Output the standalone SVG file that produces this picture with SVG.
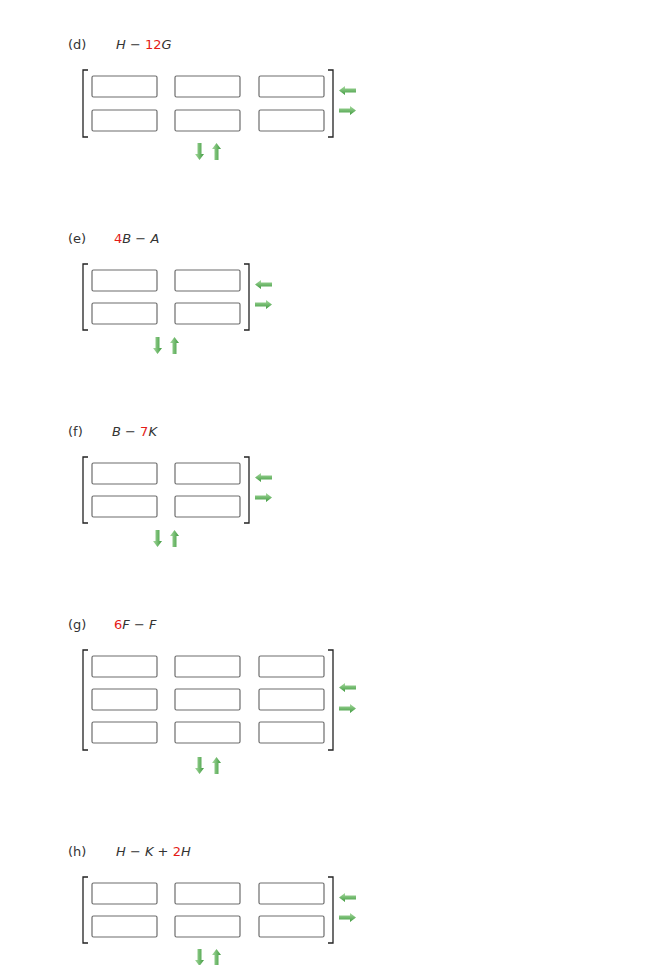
<svg xmlns="http://www.w3.org/2000/svg" width="659" height="965" viewBox="0 0 659 965">
<style>
.t{font-family:"DejaVu Sans",sans-serif;font-size:13px;fill:#333}
.i{font-style:italic}
.r{fill:#e41b17}
.b{fill:#fff;stroke:#6d6d6d;stroke-width:1.2}
.k{fill:none;stroke:#222;stroke-width:1.3}
</style>
<defs>
<linearGradient id="g" x1="0" y1="0" x2="0" y2="1"><stop offset="0" stop-color="#a8dba0"/><stop offset="1" stop-color="#3f9a3f"/></linearGradient>
<linearGradient id="gv" x1="0" y1="0" x2="1" y2="0"><stop offset="0" stop-color="#a8dba0"/><stop offset="1" stop-color="#3f9a3f"/></linearGradient>
<symbol id="L" viewBox="0 0 17 9" width="17" height="9"><path d="M0 4.5 L6 0 V2.5 H17 V6.5 H6 V9 Z" fill="url(#g)"/></symbol>
<symbol id="R" viewBox="0 0 17 9" width="17" height="9"><path d="M17 4.5 L11 0 V2.5 H0 V6.5 H11 V9 Z" fill="url(#g)"/></symbol>
<symbol id="D" viewBox="0 0 9 17" width="9" height="17"><path d="M4.5 17 L0 11 H2.5 V0 H6.5 V11 H9 Z" fill="url(#gv)"/></symbol>
<symbol id="U" viewBox="0 0 9 17" width="9" height="17"><path d="M4.5 0 L0 6 H2.5 V17 H6.5 V6 H9 Z" fill="url(#gv)"/></symbol>
</defs>

<g id="part-d">
<text class="t" x="68" y="49">(d)</text>
<text class="t" x="116" y="49"><tspan class="i">H</tspan> − <tspan class="r">12</tspan><tspan class="i">G</tspan></text>
<path class="k" d="M88 70 H83 V137 H88 M328 70 H333 V137 H328"/>
<rect class="b" x="92" y="76" width="65" height="21" rx="1.5"/><rect class="b" x="175" y="76" width="65" height="21" rx="1.5"/><rect class="b" x="259" y="76" width="65" height="21" rx="1.5"/>
<rect class="b" x="92" y="110" width="65" height="21" rx="1.5"/><rect class="b" x="175" y="110" width="65" height="21" rx="1.5"/><rect class="b" x="259" y="110" width="65" height="21" rx="1.5"/>
<use href="#L" x="339" y="86"/><use href="#R" x="339" y="106"/>
<use href="#D" x="195" y="143"/><use href="#U" x="212" y="143"/>
</g>

<g id="part-e">
<text class="t" x="68" y="243">(e)</text>
<text class="t" x="114" y="243"><tspan class="r">4</tspan><tspan class="i">B</tspan> − <tspan class="i">A</tspan></text>
<path class="k" d="M88 264 H83 V330 H88 M244 264 H249 V330 H244"/>
<rect class="b" x="92" y="270" width="65" height="21" rx="1.5"/><rect class="b" x="175" y="270" width="65" height="21" rx="1.5"/>
<rect class="b" x="92" y="303" width="65" height="21" rx="1.5"/><rect class="b" x="175" y="303" width="65" height="21" rx="1.5"/>
<use href="#L" x="255" y="280"/><use href="#R" x="255" y="300"/>
<use href="#D" x="153" y="337"/><use href="#U" x="170" y="337"/>
</g>

<g id="part-f">
<text class="t" x="68" y="436">(f)</text>
<text class="t" x="112" y="436"><tspan class="i">B</tspan> − <tspan class="r">7</tspan><tspan class="i">K</tspan></text>
<path class="k" d="M88 457 H83 V523 H88 M244 457 H249 V523 H244"/>
<rect class="b" x="92" y="463" width="65" height="21" rx="1.5"/><rect class="b" x="175" y="463" width="65" height="21" rx="1.5"/>
<rect class="b" x="92" y="496" width="65" height="21" rx="1.5"/><rect class="b" x="175" y="496" width="65" height="21" rx="1.5"/>
<use href="#L" x="255" y="473"/><use href="#R" x="255" y="493"/>
<use href="#D" x="153" y="530"/><use href="#U" x="170" y="530"/>
</g>

<g id="part-g">
<text class="t" x="68" y="629">(g)</text>
<text class="t" x="114" y="629"><tspan class="r">6</tspan><tspan class="i">F</tspan> − <tspan class="i">F</tspan></text>
<path class="k" d="M88 650 H83 V750 H88 M328 650 H333 V750 H328"/>
<rect class="b" x="92" y="656" width="65" height="21" rx="1.5"/><rect class="b" x="175" y="656" width="65" height="21" rx="1.5"/><rect class="b" x="259" y="656" width="65" height="21" rx="1.5"/>
<rect class="b" x="92" y="689" width="65" height="21" rx="1.5"/><rect class="b" x="175" y="689" width="65" height="21" rx="1.5"/><rect class="b" x="259" y="689" width="65" height="21" rx="1.5"/>
<rect class="b" x="92" y="722" width="65" height="21" rx="1.5"/><rect class="b" x="175" y="722" width="65" height="21" rx="1.5"/><rect class="b" x="259" y="722" width="65" height="21" rx="1.5"/>
<use href="#L" x="339" y="683"/><use href="#R" x="339" y="704"/>
<use href="#D" x="195" y="757"/><use href="#U" x="212" y="757"/>
</g>

<g id="part-h">
<text class="t" x="68" y="856">(h)</text>
<text class="t" x="116" y="856"><tspan class="i">H</tspan> − <tspan class="i">K</tspan> + <tspan class="r">2</tspan><tspan class="i">H</tspan></text>
<path class="k" d="M88 877 H83 V943 H88 M328 877 H333 V943 H328"/>
<rect class="b" x="92" y="883" width="65" height="21" rx="1.5"/><rect class="b" x="175" y="883" width="65" height="21" rx="1.5"/><rect class="b" x="259" y="883" width="65" height="21" rx="1.5"/>
<rect class="b" x="92" y="916" width="65" height="21" rx="1.5"/><rect class="b" x="175" y="916" width="65" height="21" rx="1.5"/><rect class="b" x="259" y="916" width="65" height="21" rx="1.5"/>
<use href="#L" x="339" y="893"/><use href="#R" x="339" y="913"/>
<use href="#D" x="195" y="949"/><use href="#U" x="212" y="949"/>
</g>
<g id="connectors"/>
</svg>
